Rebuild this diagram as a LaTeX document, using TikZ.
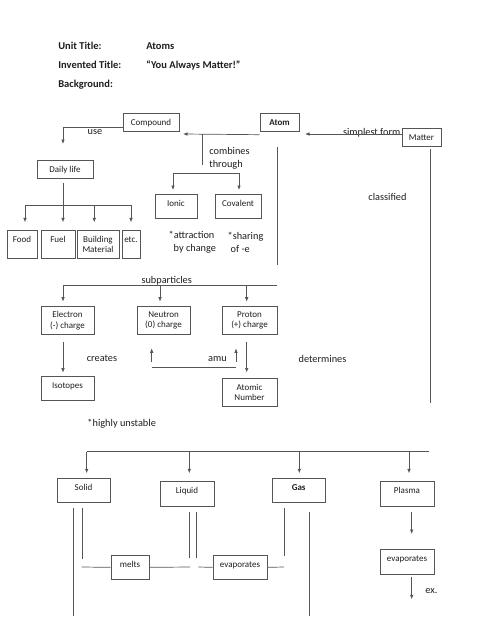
\documentclass[tikz,border=0pt]{standalone}
\usepackage{fontspec}
\setmainfont{Carlito}
\definecolor{linegray}{RGB}{85,85,85}
\definecolor{textgray}{RGB}{30,30,30}
\usetikzlibrary{arrows.meta}
\tikzset{
  box/.style={draw=linegray, line width=0.7pt, inner sep=0pt, text height=12pt, font=\fontsize{9}{11}\selectfont},
  twoline/.style={draw=linegray, line width=0.7pt, inner sep=0pt, align=center, minimum height=28pt, font=\fontsize{9}{10.7}\selectfont},
  lbl/.style={inner sep=0pt, font=\fontsize{10.3}{13}\selectfont},
  ttl/.style={inner sep=0pt, anchor=west, font=\fontsize{10.5}{12}\selectfont\bfseries},
  arr/.style={-{Latex[length=4.5pt,width=3.6pt]}},
}

\begin{document}
\begin{tikzpicture}[x=1pt, y=-1pt, line width=0.7pt, color=linegray, text=textgray]
  \useasboundingbox (0,0) rectangle (495,640);

  % titles
  \node [ttl] (unit) at (58,46) {Unit Title:};
  \node [ttl] (topic) at (146,46) {Atoms};
  \node [ttl] (invented) at (58,65) {Invented Title:};
  \node [ttl] (slogan) at (146,65) {“You Always Matter!”};
  \node [ttl] (background) at (58,85) {Background:};

  % top row
  \node [box, anchor=north, minimum width=56pt, text depth=6pt] (compound) at (151,113) {Compound};
  \node [box, anchor=north, minimum width=39pt, text depth=6pt, font=\fontsize{9}{11}\selectfont\bfseries] (atom) at (279.5,113) {Atom};
  \node [box, anchor=north, minimum width=39pt, text depth=6pt] (matter) at (421.5,128) {Matter};
  \node [box, anchor=north, minimum width=56pt, text depth=6pt] (daily) at (65,160) {Daily life};

  % uses
  \node [box, anchor=north, minimum width=30pt, text depth=16pt] (food) at (22,230) {Food};
  \node [box, anchor=north, minimum width=34pt, text depth=16pt] (fuel) at (58,230) {Fuel};
  \node [twoline, anchor=north, minimum width=42pt] (building) at (98,230) {Building\\Material};
  \node [box, anchor=north, minimum width=18pt, text depth=16pt] (etc) at (131,230) {etc.};

  % bonds
  \node [box, anchor=north, minimum width=42pt, text depth=12pt] (ionic) at (176,194) {Ionic};
  \node [box, anchor=north, minimum width=46pt, text depth=12pt] (covalent) at (238,194) {Covalent};

  % subparticles
  \node [twoline, anchor=north, minimum width=53pt] (electron) at (67.5,306) {Electron\\(-) charge};
  \node [twoline, anchor=north, minimum width=53pt] (neutron) at (163.5,306) {Neutron\\(0) charge};
  \node [twoline, anchor=north, minimum width=55pt] (proton) at (249.5,306) {Proton\\(+) charge};
  \node [box, anchor=north, minimum width=53pt, text depth=12pt] (isotopes) at (67.5,376) {Isotopes};
  \node [twoline, anchor=north, minimum width=55pt] (atomicnum) at (249.5,378) {Atomic\\Number};

  % states of matter
  \node [box, anchor=north, minimum width=53pt, text depth=12pt] (solid) at (83.5,478) {Solid};
  \node [box, anchor=north, minimum width=54pt, text depth=13pt] (liquid) at (187,481) {Liquid};
  \node [box, anchor=north, minimum width=53.5pt, text depth=12pt, font=\fontsize{9}{11}\selectfont\bfseries] (gas) at (298.7,478) {Gas};
  \node [box, anchor=north, minimum width=54pt, text depth=13pt] (plasma) at (407,481) {Plasma};
  \node [box, anchor=north, minimum width=38pt, text depth=12pt] (melts) at (130,555) {melts};
  \node [box, anchor=north, minimum width=54pt, text depth=12pt] (evapa) at (240,555) {evaporates};
  \node [box, anchor=north, minimum width=54pt, text depth=13pt] (evapb) at (407,549) {evaporates};

  % labels
  \node [lbl] (use) at (95,132) {use};
  \node [lbl, align=left, anchor=west] (combines) at (209,158.3) {combines\\through};
  \node [lbl, align=left, anchor=west] (attraction) at (168.3,242.5) {*attraction\\\hspace*{5pt}by change};
  \node [lbl, align=left, anchor=west] (sharing) at (227.3,242.5) {*sharing\\\hspace*{3pt}of -e};
  \node [lbl] (simplest) at (371.7,132.3) {simplest form};
  \node [lbl] (classified) at (387.5,196.7) {classified};
  \node [lbl] (subparticles) at (166.7,281) {subparticles};
  \node [lbl] (creates) at (102,358.7) {creates};
  \node [lbl] (amu) at (217.5,358.7) {amu};
  \node [lbl] (determines) at (322.5,358.7) {determines};
  \node [lbl] (unstable) at (121.7,423.3) {*highly unstable};
  \node [lbl] (ex) at (431.5,591.3) {ex.};

  % compound to daily life
  \coordinate (use-tip) at (63,144);
  \draw [arr] ([yshift=4pt]compound.south west) -| (use-tip);

  % daily life to uses
  \coordinate (prod-l) at (25,205);
  \coordinate (prod-r) at (131,205);
  \draw ([yshift=-4.7pt]daily.south -| use-tip) -- (use-tip |- prod-l);
  \draw (prod-l) -- (prod-r);
  \foreach \x/\b in {25/food, 63/fuel, 94.3/building, 131/etc}
    \draw [arr, shorten >=7.7pt] (\x,205) -- (\b.north -| \x,0);

  % atom to compound
  \coordinate (cmp-tip) at (183,134);
  \draw [arr] ([yshift=-3pt]atom.south west) -- (cmp-tip);
  \coordinate (bond-top) at (202,134);
  \coordinate (bond-stem) at (202,165);
  \draw (bond-top) -- (bond-stem);

  % ionic / covalent
  \coordinate (bond-l) at (173,173);
  \coordinate (bond-r) at (239,173);
  \draw (bond-l) -- (bond-r);
  \draw [arr, shorten >=4pt] (bond-l) -- (bond-l |- ionic.north);
  \draw [arr, shorten >=4pt] (bond-r) -- (bond-r |- covalent.north);

  % matter to atom
  \coordinate (atom-tip) at (305,134);
  \draw [arr] (matter.west |- atom-tip) -- (atom-tip);
  \coordinate (cls-top) at (430,149);
  \coordinate (cls-bot) at (430,403);
  \draw (cls-top) -- (cls-bot);

  % atom to subparticles
  \coordinate (sub-top) at (277.7,147);
  \coordinate (sub-end) at (277.7,265);
  \draw (sub-top) -- (sub-end);
  \coordinate (sub-l) at (63,285);
  \coordinate (sub-r) at (277,285);
  \draw (sub-l) -- (sub-r);
  \foreach \x/\p in {63/electron, 160/neutron, 246.7/proton}
    \draw [arr, shorten >=4.3pt] (\x,285) -- (\p.north -| \x,0);

  % electron / proton
  \draw [arr, shorten <=7pt, shorten >=3.3pt] (electron.south -| sub-l) -- (isotopes.north -| sub-l);
  \draw [arr, shorten <=7pt, shorten >=5.5pt] (proton.south -| 246.7,0) -- (atomicnum.north -| 246.7,0);

  % amu
  \coordinate (amu-l) at (151.7,367.3);
  \coordinate (amu-r) at (236,367.3);
  \draw (amu-l) -- (amu-r);
  \draw [arr] ([yshift=5.6pt]amu-l) -- ++(0,-13.4);
  \draw [arr] ([yshift=5.6pt]amu-r) -- ++(0,-13.4);

  % states
  \coordinate (st-l) at (86.7,451.7);
  \coordinate (st-r) at (429.3,451.7);
  \draw (st-l) -- (st-r);
  \foreach \x/\s/\d in {86.7/solid/4.7pt, 189.3/liquid/7.7pt, 299.3/gas/4.7pt, 409/plasma/7.7pt}
    \draw [arr, shorten >=\d] (\x,451.7) -- (\s.north -| \x,0);

  % plasma
  \coordinate (ex-tip) at (411.7,599.3);
  \draw [arr, shorten <=5.7pt, shorten >=15pt] (plasma.south -| ex-tip) -- (evapb.north -| ex-tip);
  \draw [arr, shorten <=2.7pt] (evapb.south -| ex-tip) -- (ex-tip);

  % solid, liquid, gas
  \coordinate (melt-in) at (81.7,567);
  \coordinate (melt-out) at (190,567);
  \coordinate (evap-in) at (198.3,567);
  \coordinate (evap-out) at (284,567);
  \draw (73.3,508.3) -- (73.3,616);
  \draw (82.7,508) -- (82.7,559.3);
  \draw (melt-in) -- (melts.west);
  \draw (melts.east) -- (melt-out);
  \draw (189.3,512.3) -- (189.3,558.3);
  \draw (196.7,512.3) -- (196.7,558.3);
  \draw (evap-in) -- (evapa.west);
  \draw (evapa.east) -- (evap-out);
  \draw (284,508) -- (284,556);
  \draw (309,511.7) -- (309,615.7);

\end{tikzpicture}
\end{document}
